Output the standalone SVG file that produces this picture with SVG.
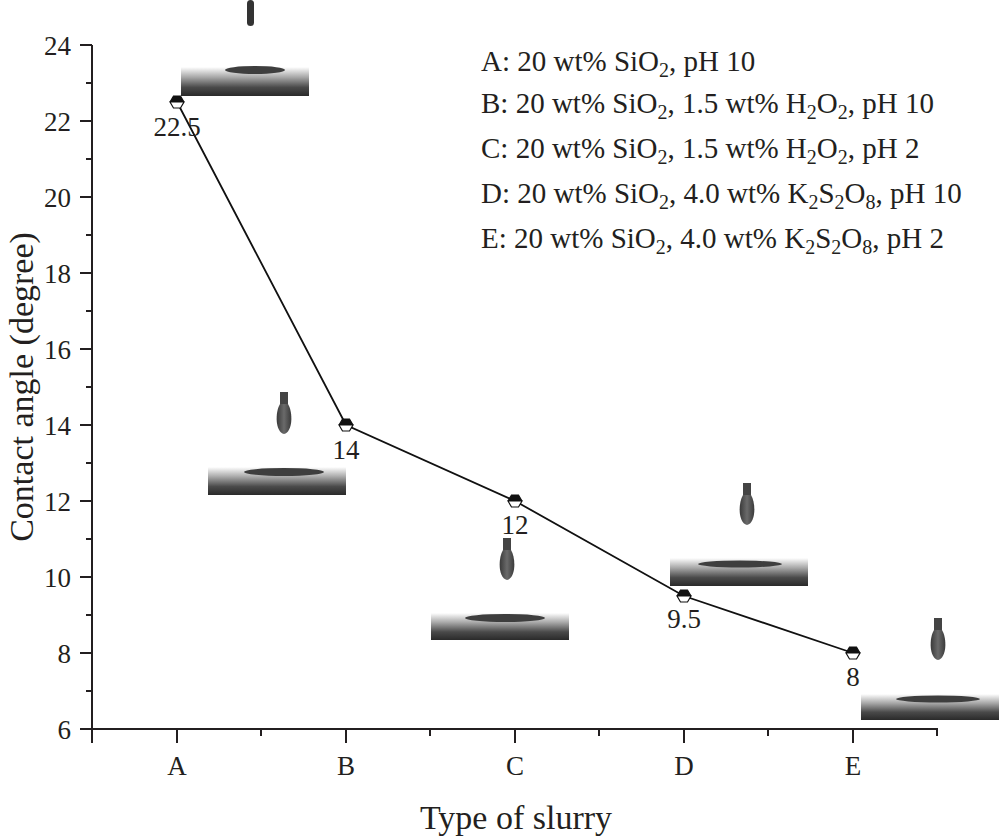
<svg xmlns="http://www.w3.org/2000/svg" width="999" height="837" viewBox="0 0 999 837" font-family="'Liberation Serif', 'Times New Roman', serif">
<style>
text{font-family:'Liberation Serif','Times New Roman',serif;fill:#231f20}
.t{font-size:27px}
.l{font-size:29px}
.ax{stroke:#231f20;stroke-width:2;fill:none}
</style>
<defs>
<linearGradient id="sub" x1="0" y1="0" x2="0" y2="1">
<stop offset="0" stop-color="#ffffff"/><stop offset="0.35" stop-color="#a8a8a8"/><stop offset="0.7" stop-color="#4a4a4a"/><stop offset="1" stop-color="#2a2a2a"/>
</linearGradient>
<linearGradient id="drop" x1="0" y1="0" x2="1" y2="0">
<stop offset="0" stop-color="#3a3a3a"/><stop offset="0.5" stop-color="#6a6a6a"/><stop offset="1" stop-color="#3a3a3a"/>
</linearGradient>
<g id="mk"><path d="M-7,0 L-3.5,-6 L3.5,-6 L7,0 Z" fill="#111"/><path d="M-7,0 L-3.5,6 L3.5,6 L7,0 Z" fill="#fff" stroke="#111" stroke-width="1.2"/><path d="M-7,0 L-3.5,-6 L3.5,-6 L7,0" fill="none" stroke="#111" stroke-width="1.2"/></g>
<g id="pend"><rect x="-4" y="0" width="8" height="14" fill="#444"/><path d="M-4,12 C-9,20 -9,40 0,42 C9,40 9,20 4,12 Z" fill="url(#drop)"/></g>
</defs>
<g id="images">
<rect x="181" y="67" width="128" height="29" fill="url(#sub)"/><ellipse cx="255" cy="70" rx="30" ry="4" fill="#3e3e3e"/>
<rect x="247" y="0" width="7" height="26" rx="3.5" fill="#333"/>
<rect x="208" y="467" width="138" height="28" fill="url(#sub)"/><ellipse cx="284" cy="472" rx="40" ry="4" fill="#3e3e3e"/>
<use href="#pend" x="284" y="392"/>
<rect x="431" y="613" width="138" height="27" fill="url(#sub)"/><ellipse cx="505" cy="618" rx="40" ry="4" fill="#3e3e3e"/>
<use href="#pend" x="507" y="538"/>
<rect x="670" y="558" width="138" height="28" fill="url(#sub)"/><ellipse cx="740" cy="564" rx="42" ry="3.5" fill="#3e3e3e"/>
<use href="#pend" x="747" y="483"/>
<rect x="861" y="694" width="138" height="26" fill="url(#sub)"/><ellipse cx="938" cy="699" rx="42" ry="3.5" fill="#3e3e3e"/>
<use href="#pend" x="938" y="618"/>
</g>
<g id="axes" class="ax">
<path d="M92,45 V729 H938"/>
<path d="M80,45H92M80,121H92M80,197H92M80,273H92M80,349H92M80,425H92M80,501H92M80,577H92M80,653H92M80,729H92"/>
<path d="M86,83H92M86,159H92M86,235H92M86,311H92M86,387H92M86,463H92M86,539H92M86,615H92M86,691H92"/>
<path d="M92,729V743M177,729V743M346,729V743M515,729V743M684,729V743M853,729V743M261,729V736M430,729V736M599,729V736M768,729V736M937,729V736"/>
</g>
<g id="ticklabels" class="t" text-anchor="end">
<text x="71" y="55">24</text><text x="71" y="131">22</text><text x="71" y="207">20</text><text x="71" y="283">18</text><text x="71" y="359">16</text><text x="71" y="435">14</text><text x="71" y="511">12</text><text x="71" y="587">10</text><text x="71" y="663">8</text><text x="71" y="739">6</text>
</g>
<g class="t" text-anchor="middle">
<text x="177" y="775">A</text><text x="346" y="775">B</text><text x="515" y="775">C</text><text x="684" y="775">D</text><text x="853" y="775">E</text>
</g>
<text x="516" y="829" font-size="34" text-anchor="middle">Type of slurry</text>
<text transform="translate(33,387) rotate(-90)" font-size="34" text-anchor="middle">Contact angle (degree)</text>
<g id="connectors"><polyline points="177,102 346,425 515,501 684,596 853,653" fill="none" stroke="#111" stroke-width="1.8"/></g>
<g id="points">
<use href="#mk" x="177" y="102"/><use href="#mk" x="346" y="425"/><use href="#mk" x="515" y="501"/><use href="#mk" x="684" y="596"/><use href="#mk" x="853" y="653"/>
</g>
<g class="t" text-anchor="middle">
<text x="177" y="136">22.5</text><text x="346" y="459">14</text><text x="515" y="534">12</text><text x="684" y="628">9.5</text><text x="853" y="686">8</text>
</g>
<g id="legend" class="l">
<text x="481" y="71">A: 20 wt% SiO<tspan font-size="20" dy="6">2</tspan><tspan dy="-6">, pH 10</tspan></text>
<text x="481" y="113">B: 20 wt% SiO<tspan font-size="20" dy="6">2</tspan><tspan dy="-6">, 1.5 wt% H</tspan><tspan font-size="20" dy="6">2</tspan><tspan dy="-6">O</tspan><tspan font-size="20" dy="6">2</tspan><tspan dy="-6">, pH 10</tspan></text>
<text x="481" y="158">C: 20 wt% SiO<tspan font-size="20" dy="6">2</tspan><tspan dy="-6">, 1.5 wt% H</tspan><tspan font-size="20" dy="6">2</tspan><tspan dy="-6">O</tspan><tspan font-size="20" dy="6">2</tspan><tspan dy="-6">, pH 2</tspan></text>
<text x="481" y="203">D: 20 wt% SiO<tspan font-size="20" dy="6">2</tspan><tspan dy="-6">, 4.0 wt% K</tspan><tspan font-size="20" dy="6">2</tspan><tspan dy="-6">S</tspan><tspan font-size="20" dy="6">2</tspan><tspan dy="-6">O</tspan><tspan font-size="20" dy="6">8</tspan><tspan dy="-6">, pH 10</tspan></text>
<text x="481" y="248">E: 20 wt% SiO<tspan font-size="20" dy="6">2</tspan><tspan dy="-6">, 4.0 wt% K</tspan><tspan font-size="20" dy="6">2</tspan><tspan dy="-6">S</tspan><tspan font-size="20" dy="6">2</tspan><tspan dy="-6">O</tspan><tspan font-size="20" dy="6">8</tspan><tspan dy="-6">, pH 2</tspan></text>
</g>
</svg>
